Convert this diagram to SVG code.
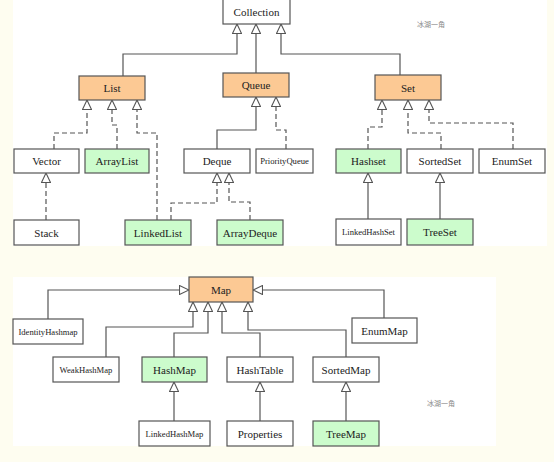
<svg xmlns="http://www.w3.org/2000/svg" width="554" height="462" viewBox="0 0 554 462">
<style>
.bx{fill:#fff;stroke:#555;stroke-width:1.2}
.or{fill:#fcc994;stroke:#555;stroke-width:1.2}
.gr{fill:#ccfccc;stroke:#555;stroke-width:1.2}
text{font-family:"Liberation Serif","Times New Roman",serif;font-size:11px;fill:#222;text-anchor:middle;dominant-baseline:central}
text.s{font-size:8.6px}
text.wm{font-family:"Noto Sans CJK SC",sans-serif;font-size:7px;fill:#888;text-anchor:start}
.ln{fill:none;stroke:#555;stroke-width:1.2;marker-end:url(#tri)}
.ds{stroke-dasharray:5 3}
</style>
<defs>
<marker id="tri" markerUnits="userSpaceOnUse" viewBox="0 0 10 10" refX="10" refY="5" markerWidth="10" markerHeight="10" orient="auto">
<path d="M0.5,0.5 L10,5 L0.5,9.5 z" fill="#fff" stroke="#555" stroke-width="1.1" stroke-dasharray="none"/>
</marker>
</defs>
<rect x="0" y="0" width="554" height="462" fill="#fefdf0"/>
<rect x="13" y="0" width="534" height="246" fill="#fff"/>
<rect x="13" y="277" width="483" height="169" fill="#fff"/>
<text class="wm" x="417" y="24">冰湖一角</text>
<text class="wm" x="427" y="403">冰湖一角</text>

<g id="connectors">
<path class="ln" d="M123,76 V54 H237 V24"/>
<path class="ln" d="M256,73 V24"/>
<path class="ln" d="M400,75 V54 H281 V24"/>
<path class="ln ds" d="M54,149 V133 H87 V100"/>
<path class="ln ds" d="M117,149 V125 H112 V100"/>
<path class="ln ds" d="M157,220 V133 H137 V100"/>
<path class="ln" d="M217,149 V130 H256 V97"/>
<path class="ln ds" d="M286,149 V130 H276 V97"/>
<path class="ln ds" d="M46,220 V173"/>
<path class="ln ds" d="M171,220 V203 H217 V173"/>
<path class="ln ds" d="M250,220 V202 H229 V173"/>
<path class="ln ds" d="M368,149 V127 H382 V100"/>
<path class="ln ds" d="M441,149 V133 H408 V100"/>
<path class="ln ds" d="M513,149 V123 H429 V100"/>
<path class="ln" d="M368,219 V173"/>
<path class="ln" d="M440,219 V173"/>
<path class="ln" d="M48,319 V290 H189"/>
<path class="ln" d="M384,318 V290 H253"/>
<path class="ln" d="M106,357 V327 H193 V302"/>
<path class="ln" d="M174,357 V333 H208 V302"/>
<path class="ln" d="M260,357 V333 H222 V302"/>
<path class="ln" d="M346,357 V330 H248 V302"/>
<path class="ln" d="M174,421 V382"/>
<path class="ln" d="M260,421 V382"/>
<path class="ln" d="M346,421 V382"/>
</g>

<g id="Collection"><rect class="bx" x="223" y="-1" width="67" height="25"/><text x="256.5" y="12">Collection</text></g>
<g id="List"><rect class="or" x="79" y="76" width="66" height="24"/><text x="112" y="88">List</text></g>
<g id="Queue"><rect class="or" x="223" y="73" width="66" height="24"/><text x="256" y="85">Queue</text></g>
<g id="Set"><rect class="or" x="375" y="75" width="66" height="25"/><text x="408" y="87.5">Set</text></g>
<g id="Vector"><rect class="bx" x="14" y="149" width="65" height="24"/><text x="46.5" y="161">Vector</text></g>
<g id="ArrayList"><rect class="gr" x="85" y="149" width="64" height="24"/><text x="117" y="161">ArrayList</text></g>
<g id="Deque"><rect class="bx" x="184" y="149" width="66" height="24"/><text x="217" y="161">Deque</text></g>
<g id="PriorityQueue"><rect class="bx" x="256" y="149" width="57" height="24"/><text class="s" x="284.5" y="161">PriorityQueue</text></g>
<g id="Hashset"><rect class="gr" x="336" y="149" width="65" height="24"/><text x="368.5" y="161">Hashset</text></g>
<g id="SortedSet"><rect class="bx" x="407" y="149" width="66" height="24"/><text x="440" y="161">SortedSet</text></g>
<g id="EnumSet"><rect class="bx" x="479" y="149" width="66" height="24"/><text x="512" y="161">EnumSet</text></g>
<g id="Stack"><rect class="bx" x="14" y="220" width="65" height="25"/><text x="46.5" y="232.5">Stack</text></g>
<g id="LinkedList"><rect class="gr" x="125" y="220" width="66" height="25"/><text x="158" y="232.5">LinkedList</text></g>
<g id="ArrayDeque"><rect class="gr" x="217" y="220" width="66" height="25"/><text x="250" y="232.5">ArrayDeque</text></g>
<g id="LinkedHashSet"><rect class="bx" x="336" y="219" width="65" height="26"/><text class="s" x="368.5" y="232">LinkedHashSet</text></g>
<g id="TreeSet"><rect class="gr" x="407" y="219" width="66" height="26"/><text x="440" y="232">TreeSet</text></g>

<g id="Map"><rect class="or" x="189" y="277" width="64" height="25"/><text x="221" y="289.5">Map</text></g>
<g id="IdentityHashmap"><rect class="bx" x="13" y="319" width="70" height="25"/><text class="s" x="48" y="331.5">IdentityHashmap</text></g>
<g id="EnumMap"><rect class="bx" x="352" y="318" width="65" height="25"/><text x="384.5" y="330.5">EnumMap</text></g>
<g id="WeakHashMap"><rect class="bx" x="53" y="357" width="66" height="25"/><text class="s" x="86" y="369.5">WeakHashMap</text></g>
<g id="HashMap"><rect class="gr" x="142" y="357" width="65" height="25"/><text x="174.5" y="369.5">HashMap</text></g>
<g id="HashTable"><rect class="bx" x="227" y="357" width="66" height="25"/><text x="260" y="369.5">HashTable</text></g>
<g id="SortedMap"><rect class="bx" x="313" y="357" width="66" height="25"/><text x="346" y="369.5">SortedMap</text></g>
<g id="LinkedHashMap"><rect class="bx" x="139" y="421" width="71" height="25"/><text class="s" x="174.5" y="433.5">LinkedHashMap</text></g>
<g id="Properties"><rect class="bx" x="227" y="421" width="66" height="25"/><text x="260" y="433.5">Properties</text></g>
<g id="TreeMap"><rect class="gr" x="313" y="421" width="66" height="25"/><text x="346" y="433.5">TreeMap</text></g>
</svg>
